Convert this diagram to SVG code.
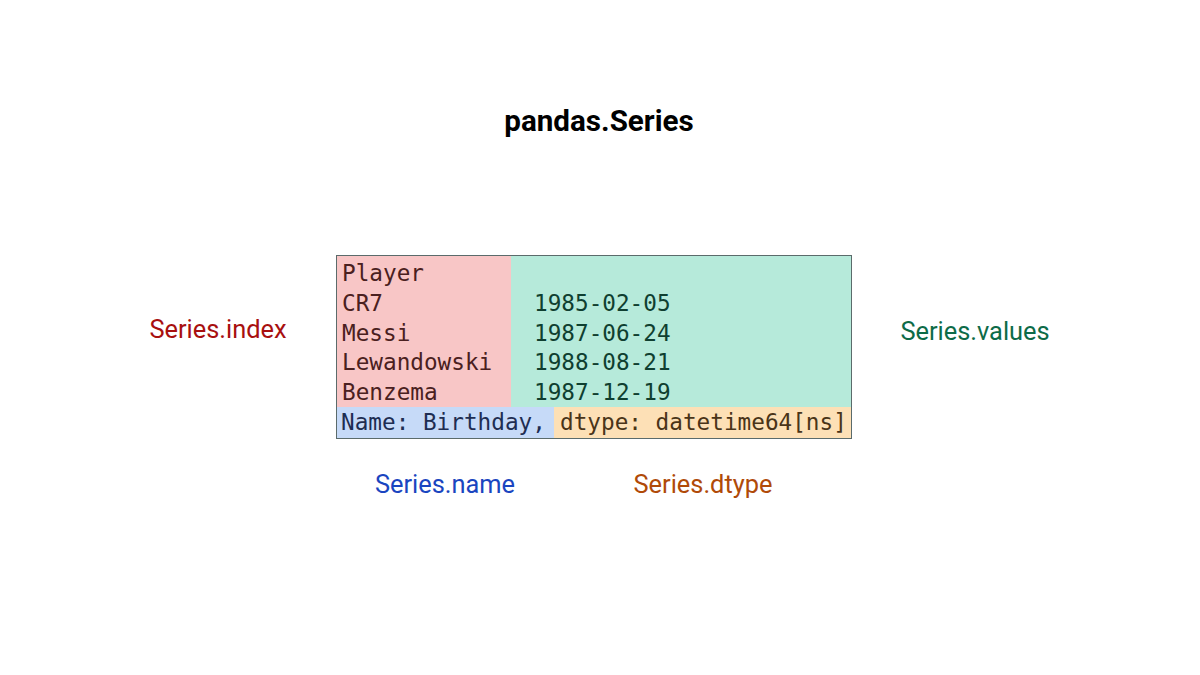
<svg xmlns="http://www.w3.org/2000/svg" width="1200" height="675" viewBox="0 0 1200 675">
<style>
.mono{font-family:"DejaVu Sans Mono","Liberation Mono",monospace;font-size:22.7px}
.lab{font-family:Roboto,"Liberation Sans",sans-serif;font-size:25.4px;text-anchor:middle}
</style>
<rect width="1200" height="675" fill="#ffffff"/>
<text x="599" y="131" font-family="Roboto,'Liberation Sans',sans-serif" font-size="29.6" font-weight="bold" text-anchor="middle" fill="#000000">pandas.Series</text>
<g id="series-table">
<rect x="336" y="255" width="175" height="152" fill="#f8c6c6"/>
<rect x="511" y="255" width="340" height="152" fill="#b6eada"/>
<rect x="336" y="407" width="218" height="31" fill="#c6daf8"/>
<rect x="554" y="407" width="297" height="31" fill="#fde0b6"/>
<rect x="336.5" y="255.5" width="515" height="183" fill="none" stroke="#5b6b6b" stroke-width="1"/>
<g class="mono" fill="#4a2020">
<text x="342" y="281">Player</text>
<text x="342" y="311">CR7</text>
<text x="342" y="341">Messi</text>
<text x="342" y="370">Lewandowski</text>
<text x="342" y="400">Benzema</text>
</g>
<g class="mono" fill="#0f3f30">
<text x="534" y="311">1985-02-05</text>
<text x="534" y="341">1987-06-24</text>
<text x="534" y="370">1988-08-21</text>
<text x="534" y="400">1987-12-19</text>
</g>
<text class="mono" x="341" y="430" fill="#1e2d52">Name: Birthday,</text>
<text class="mono" x="560" y="430" fill="#4a3418">dtype: datetime64[ns]</text>
</g>
<g id="label-index"><text class="lab" x="218" y="338" fill="#a80f0f">Series.index</text></g>
<g id="label-values"><text class="lab" x="975" y="340" fill="#0d6b48">Series.values</text></g>
<g id="label-name"><text class="lab" x="445" y="493" fill="#1a45c0">Series.name</text></g>
<g id="label-dtype"><text class="lab" x="703" y="493" fill="#b04a08">Series.dtype</text></g>
<g id="connectors"></g>
</svg>
